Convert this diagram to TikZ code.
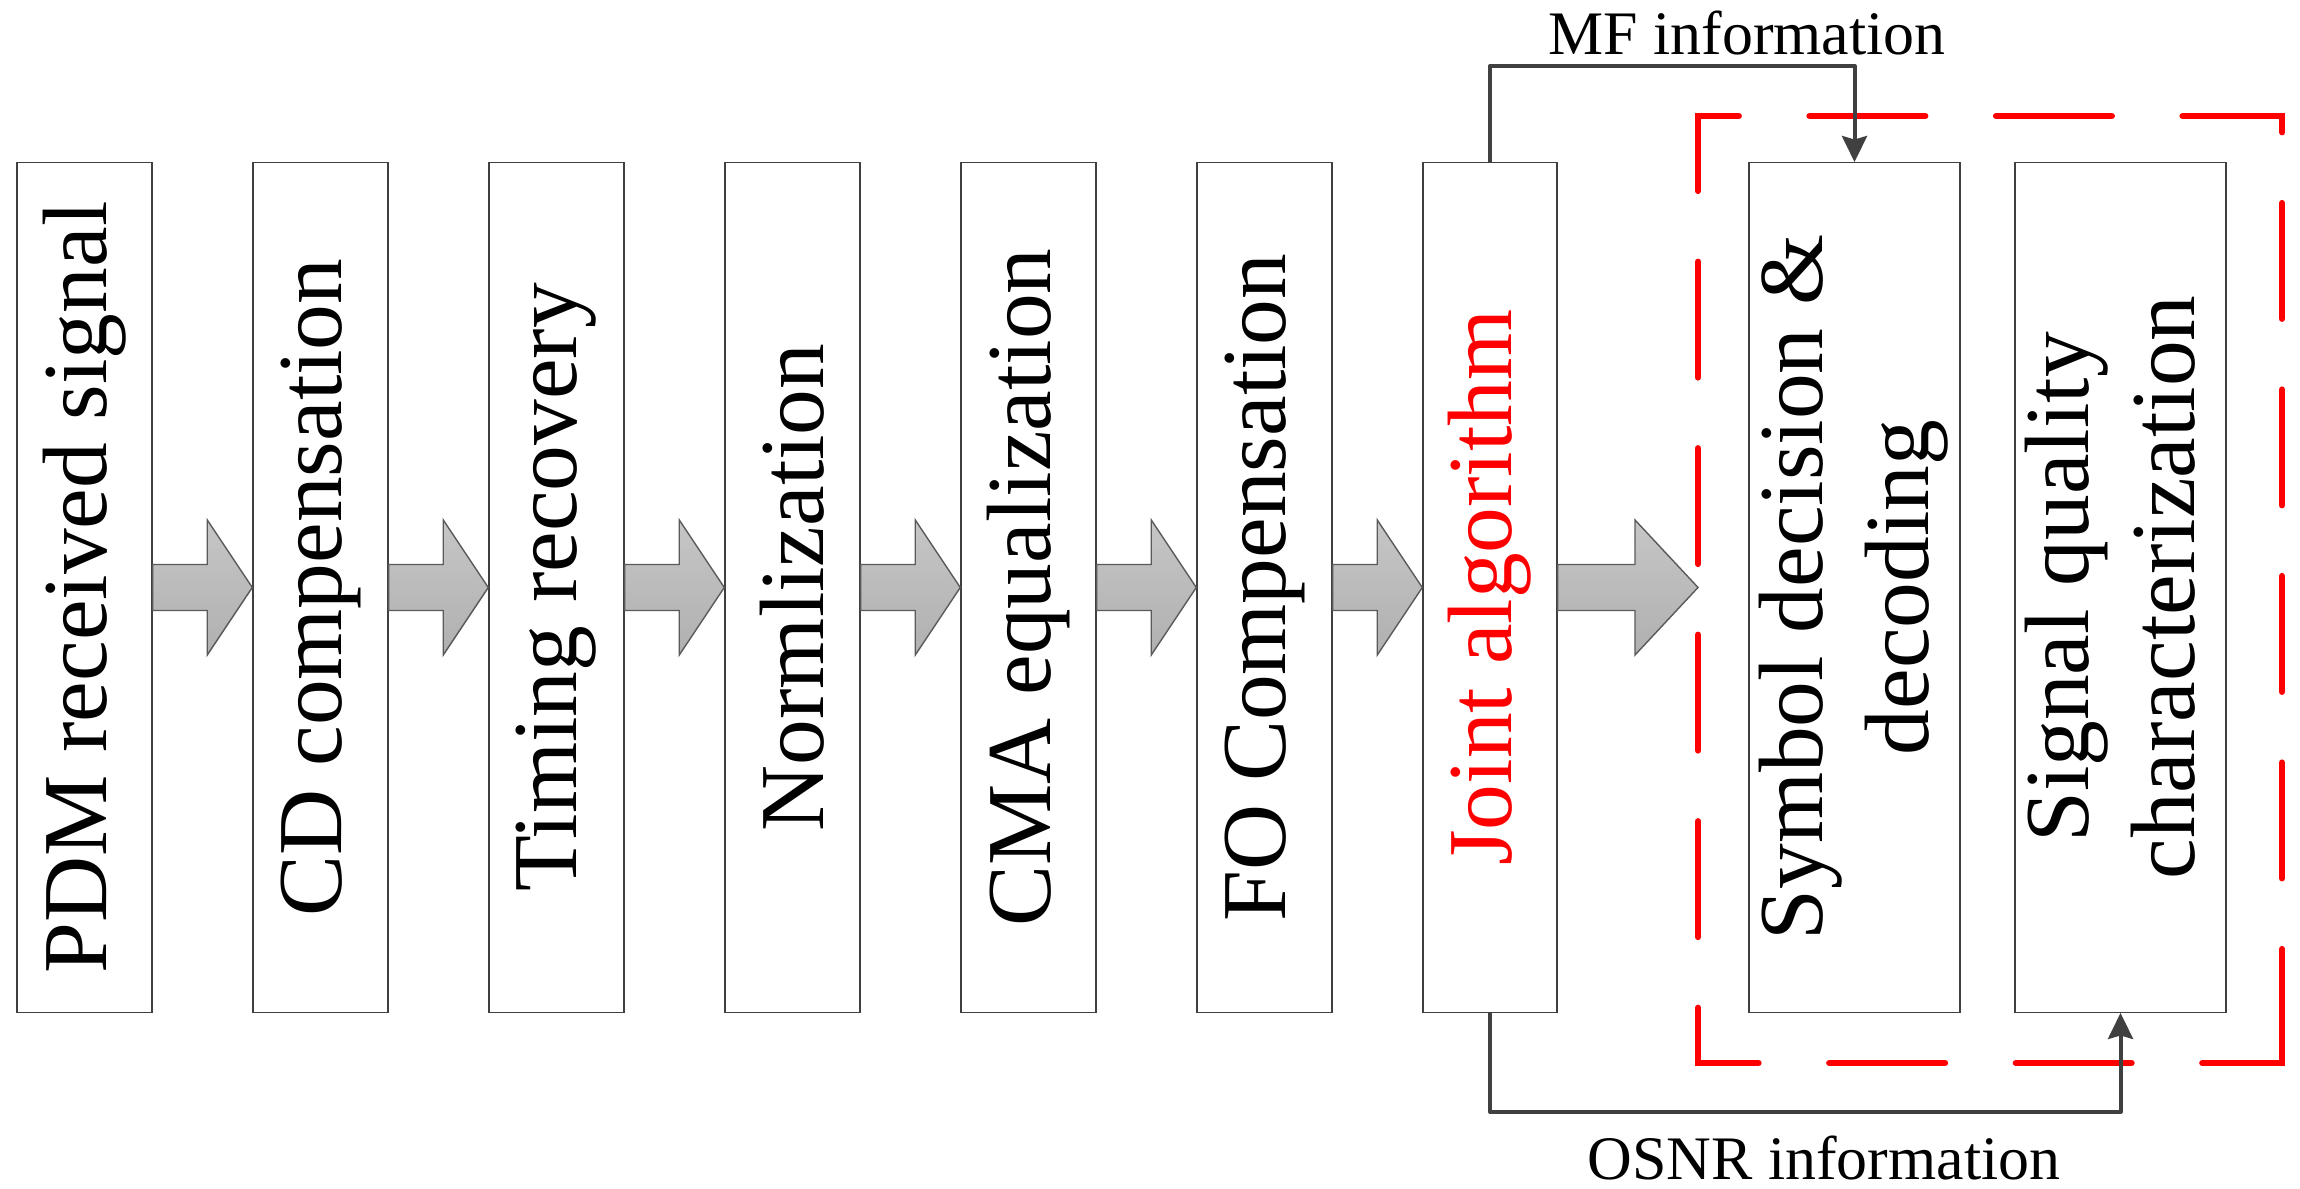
\documentclass[tikz,border=0pt]{standalone}
\usepackage{fontspec}
\setmainfont{Liberation Serif}
\usepackage{graphicx}
\usetikzlibrary{arrows.meta,calc}
\definecolor{dgray}{HTML}{404040}
\definecolor{agray}{HTML}{5A5A5A}
\definecolor{atop}{HTML}{C6C6C6}
\definecolor{abot}{HTML}{B0B0B0}
\definecolor{pred}{HTML}{FF0000}
\newcommand{\garr}[3]{%
  \filldraw[garrow] ($(#1)+(0,-23)$) -- ($(#2)+(-#3,-23)$) -- ($(#2)+(-#3,-67.5)$) -- (#2)
    -- ($(#2)+(-#3,67.5)$) -- ($(#2)+(-#3,23)$) -- ($(#1)+(0,23)$) -- cycle;}
\begin{document}
\begin{tikzpicture}[x=0.01cm,y=-0.01cm,
  blk/.style={draw=dgray, line width=0.4pt, fill=white, minimum height=8.49cm,
    inner sep=0pt, font=\rmfamily\fontsize{26}{30}\selectfont, text=black},
  conn/.style={draw=dgray, line width=0.04cm, line join=round},
  tip/.style={-{Stealth[length=0.26cm, width=0.25cm, inset=0.035cm]}},
  garrow/.style={draw=agray, line width=0.4pt, top color=atop, bottom color=abot},
  reddash/.style={draw=pred, line width=0.065cm, line cap=round, line join=miter,
    dash pattern=on 1.155cm off 0.709cm},
  lbl/.style={font=\rmfamily\fontsize{17.6}{21}\selectfont, inner sep=0pt}]
\useasboundingbox (0,0) rectangle (2300,1189);

% red dashed frame
\draw[reddash] (2282,1027.05) -- (2282,1063) -- (1698,1063) -- (1698,116) -- (2282,116) -- cycle;

% processing blocks
\node[blk, minimum width=1.35cm] (b1) at (84.5,587.5) {\rotatebox{90}{PDM received signal}};
\node[blk, minimum width=1.35cm] (b2) at (320.5,587.5) {\rotatebox{90}{CD compensation}};
\node[blk, minimum width=1.35cm] (b3) at (556.5,587.5) {\rotatebox{90}{Timing recovery}};
\node[blk, minimum width=1.35cm] (b4) at (792.5,587.5) {\rotatebox{90}{Normlization}};
\node[blk, minimum width=1.35cm] (b5) at (1028.5,587.5) {\rotatebox{90}{CMA equalization}};
\node[blk, minimum width=1.35cm] (b6) at (1264.5,587.5) {\rotatebox{90}{FO Compensation}};
\node[blk, minimum width=1.34cm, text=pred] (b7) at (1490,587.5) {\rotatebox{90}{Joint algorithm}};
\node[blk, minimum width=2.03cm] (b8) at (1854.5,587.5)
  {\rotatebox{90}{\begin{tabular}{@{}c@{}}Symbol decision \&\\decoding\end{tabular}}};
\node[blk, minimum width=1.83cm] (b9) at (2120.5,587.5)
  {\rotatebox{90}{\begin{tabular}{@{}c@{}}Signal quality\\characterization\end{tabular}}};
\coordinate (dl) at (1698,587.5);

% block arrows
\garr{b1.east}{b2.west}{45}
\garr{b2.east}{b3.west}{45}
\garr{b3.east}{b4.west}{45}
\garr{b4.east}{b5.west}{45}
\garr{b5.east}{b6.west}{45}
\garr{b6.east}{b7.west}{45}
\garr{b7.east}{dl}{63}

% side information connectors
\draw[conn, tip] (b7.north) -- ++(0,-96) -| (b8.north);
\draw[conn, tip] (b7.south) -- ++(0,99) -| (b9.south);

\node[lbl, anchor=base] (mf) at (1747,55) {MF information};
\node[lbl, anchor=base] (osnr) at (1824,1179) {OSNR information};
\end{tikzpicture}
\end{document}
